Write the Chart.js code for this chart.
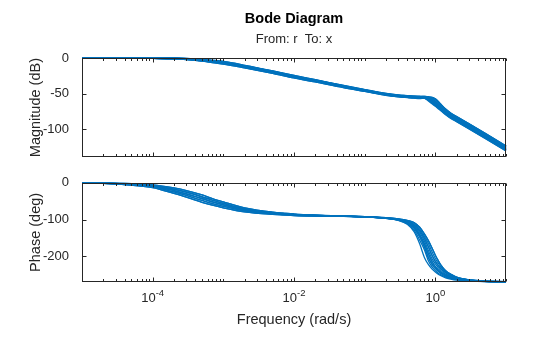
<!DOCTYPE html>
<html>
<head>
<meta charset="utf-8">
<script src="https://cdn.jsdelivr.net/npm/chart.js@4/dist/chart.umd.min.js"></script>
<style>
  body { margin: 0; background: #fff; }
  #wrap { position: relative; width: 560px; height: 337px; }
  canvas { position: absolute; left: 0; }
</style>
</head>
<body>
<div id="wrap">
  <canvas id="magChart" width="560" height="170" style="top:0"></canvas>
  <canvas id="phaseChart" width="560" height="167" style="top:170px"></canvas>
</div>
<script>
// frequency grid (rad/s)
const freq = [1e-5, 2e-5, 5e-5, 1e-4, 2e-4, 3e-4, 5e-4, 7e-4, 1e-3, 2e-3, 5e-3, 1e-2, 2e-2, 5e-2, 0.1,
  0.2, 0.3, 0.4, 0.5, 0.6, 0.7, 0.8, 0.9, 1, 1.1, 1.2, 1.4, 1.7, 2, 3, 5, 10];

// magnitude (dB) of each sampled model
const mag1 = [0, 0, -0.02, -0.1, -0.4, -0.8, -2.1, -3.4, -5.1, -10.4, -18.3, -24.7, -30.6, -38.7, -44.4,
  -49.9, -52, -53, -53.7, -54.1, -53.5, -55.2, -57.9, -61.4, -65.1, -68.7, -74.5, -80.6, -84.5, -94.5, -107.5, -125.5];
const mag2 = [0, 0, -0.03, -0.15, -0.55, -1.1, -2.65, -4.1, -5.85, -11.2, -19.05, -25.45, -31.3, -39.35, -44.95,
  -50.5, -52.5, -53.2, -53.7, -53.7, -56, -60, -64, -67.5, -70.8, -73.8, -79.2, -85.1, -89.1, -99.1, -112.1, -130];
const mag3 = [0, 0, -0.05, -0.2, -0.7, -1.4, -3.2, -4.8, -6.6, -12, -19.8, -26.2, -32, -40, -45.5,
  -51, -53.2, -54.3, -55.3, -56, -56, -55.4, -55.5, -57.3, -61, -65, -71.7, -78.3, -82.3, -92.4, -105.4, -123.5];
const mag4 = [0, 0, -0.07, -0.25, -0.9, -1.75, -3.75, -5.45, -7.4, -12.8, -20.55, -26.95, -32.7, -40.65, -46.05,
  -51.5, -53.6, -54.4, -55, -55.2, -55.5, -58.5, -62, -65.5, -69.1, -72.5, -78.2, -84.2, -88.2, -98.2, -111.2, -129.1];
const mag5 = [0, 0, -0.1, -0.3, -1.1, -2.1, -4.3, -6.1, -8.2, -13.6, -21.3, -27.7, -33.4, -41.3, -46.6,
  -52.1, -54.2, -55.3, -56.1, -56.6, -56.1, -56.9, -58.9, -62.1, -65.9, -69.7, -75.6, -81.7, -85.7, -95.7, -108.7, -126.7];
const mag6 = [0, 0, -0.02, -0.1, -0.4, -0.8, -2.1, -3.4, -5.1, -10.4, -18.3, -24.7, -30.6, -38.7, -44.4,
  -49.9, -52.1, -53.1, -54, -54.7, -54.4, -54.4, -55.5, -58.1, -61.9, -65.9, -72.1, -78.4, -82.4, -92.4, -105.4, -123.4];
const mag7 = [0, 0, -0.05, -0.2, -0.7, -1.4, -3.2, -4.8, -6.6, -12, -19.8, -26.2, -32, -40, -45.5,
  -51, -53, -53.8, -54.4, -54.5, -55.6, -59.2, -63, -66.5, -70, -73.2, -78.7, -84.7, -88.7, -98.7, -111.7, -129.6];
const mag8 = [0, 0, -0.1, -0.3, -1.1, -2.1, -4.3, -6.1, -8.2, -13.6, -21.3, -27.7, -33.4, -41.3, -46.6,
  -52.1, -54.2, -55.1, -55.8, -56.1, -55.7, -58.1, -61.3, -64.9, -68.6, -72.1, -77.8, -83.8, -87.8, -97.8, -110.8, -128.7];
const mag9 = [0, 0, -0.03, -0.15, -0.55, -1.1, -2.65, -4.1, -5.85, -11.2, -19.05, -25.45, -31.3, -39.35, -44.95,
  -50.5, -52.6, -53.7, -54.5, -55, -54.5, -55.3, -57.3, -60.5, -64.3, -68.1, -74, -80.1, -84.1, -94.1, -107.1, -125.1];
const mag10 = [0, 0, -0.07, -0.25, -0.9, -1.75, -3.75, -5.45, -7.4, -12.8, -20.55, -26.95, -32.7, -40.65, -46.05,
  -51.5, -53.7, -54.8, -55.8, -56.5, -56.5, -55.9, -56, -57.8, -61.5, -65.5, -72.2, -78.8, -82.8, -92.9, -105.9, -124];
const mag11 = [0, 0, -0.05, -0.2, -0.7, -1.4, -3.2, -4.8, -6.6, -12, -19.8, -26.2, -32, -40, -45.5,
  -51, -53.1, -54, -54.7, -55, -54.6, -57, -60.2, -63.8, -67.5, -71, -76.7, -82.7, -86.7, -96.7, -109.7, -127.6];
const mag12 = [0, 0, -0.03, -0.15, -0.55, -1.1, -2.65, -4.1, -5.85, -11.2, -19.05, -25.45, -31.3, -39.35, -44.95,
  -50.5, -52.6, -53.4, -54, -54.2, -54.5, -57.5, -61, -64.5, -68.1, -71.5, -77.2, -83.2, -87.2, -97.2, -110.2, -128.1];

// phase (deg) of each sampled model
const phase1 = [0, -0.5, -2.5, -5.5, -14, -21, -33, -43, -52, -68, -80, -85, -88, -90.5, -92,
  -96, -100, -106, -117, -135, -158, -185, -207, -221, -231, -239, -248.5, -255.5, -259.8, -265, -268, -269.5];
const phase2 = [0, -0.7, -3, -7, -17.5, -25.5, -38, -47.5, -56, -71, -81.5, -86, -88.5, -90.7, -92.2,
  -97, -102.5, -113, -133, -166, -203, -223, -235, -243, -249, -253, -258.5, -262.5, -264.5, -267, -269, -270];
const phase3 = [0, -1, -4.5, -9, -21, -30, -43, -52, -60, -74, -83, -87, -89, -91, -92.5,
  -95, -98, -102, -108, -121, -139, -158, -178, -197, -212, -224, -239, -250, -256.5, -264, -267.5, -269];
const phase4 = [0, -1.2, -5.5, -11, -25, -34.5, -48, -56.5, -64, -76.5, -84.5, -88, -89.7, -91.2, -92.7,
  -96.5, -101, -109, -123, -147, -174, -204, -222, -233, -241, -247, -254, -259.5, -262.5, -266, -268.5, -269.7];
const phase5 = [0, -1.5, -6.5, -13, -29, -39, -53, -61, -68, -79, -86, -89, -90.5, -91.5, -93,
  -95.7, -99.5, -105, -114, -130, -151, -175, -198, -214, -225, -234, -245, -253.5, -258.5, -264.6, -267.8, -269.4];
const phase6 = [0, -0.5, -2.5, -5.5, -14, -21, -33, -43, -52, -68, -80, -85, -88, -90.5, -92,
  -95.4, -99, -103.5, -111, -126, -145, -166, -188, -206, -219, -229, -242, -251.5, -257.5, -264.3, -267.6, -269.2];
const phase7 = [0, -1, -4.5, -9, -21, -30, -43, -52, -60, -74, -83, -87, -89, -91, -92.5,
  -96.8, -102, -111, -128, -156, -182, -213, -229, -239, -246, -250.5, -256.5, -261, -263.5, -266.5, -268.8, -269.8];
const phase8 = [0, -1.5, -6.5, -13, -29, -39, -53, -61, -68, -79, -86, -89, -90.5, -91.5, -93,
  -96.3, -100.5, -107.5, -120, -141, -166, -194, -215, -228, -237, -243.5, -251.5, -257.8, -261.3, -265.5, -268.3, -269.6];
const phase9 = [0, -0.7, -3, -7, -17.5, -25.5, -38, -47.5, -56, -71, -81.5, -86, -88.5, -90.7, -92.2,
  -95.7, -99.5, -105, -114, -130, -151, -175, -198, -214, -225, -234, -245, -253.5, -258.5, -264.6, -267.8, -269.4];
const phase10 = [0, -1.2, -5.5, -11, -25, -34.5, -48, -56.5, -64, -76.5, -84.5, -88, -89.7, -91.2, -92.7,
  -95, -98, -102, -108, -121, -139, -158, -178, -197, -212, -224, -239, -250, -256.5, -264, -267.5, -269];
const phase11 = [0, -1, -4.5, -9, -21, -30, -43, -52, -60, -74, -83, -87, -89, -91, -92.5,
  -96.3, -100.5, -107.5, -120, -141, -166, -194, -215, -228, -237, -243.5, -251.5, -257.8, -261.3, -265.5, -268.3, -269.6];
const phase12 = [0, -0.7, -3, -7, -17.5, -25.5, -38, -47.5, -56, -71, -81.5, -86, -88.5, -90.7, -92.2,
  -96.5, -101, -109, -123, -147, -174, -204, -222, -233, -241, -247, -254, -259.5, -262.5, -266, -268.5, -269.7];

// axis ticks
const magTicks = [-100, -50, 0];
const phaseTicks = [-200, -100, 0];
const freqMajor = [1e-4, 1e-2, 1];
const freqMajorExp = ['-4', '-2', '0'];

const lineColor = '#0072BD';
const axisColor = '#262626';
const fontFamily = "'Liberation Sans', Arial, Helvetica, sans-serif";
Chart.defaults.font.family = fontFamily;
Chart.defaults.color = axisColor;

// log tick marks 1..9 x 10^n
const freqTicks = [];
for (let e = -5; e <= 0; e++) {
  for (let m = 1; m <= 9; m++) freqTicks.push(m === 1 ? Number('1e' + e) : m * Number('1e' + e));
}
freqTicks.push(10);

function isMajor(v) {
  return freqMajor.some(m => Math.abs(v / m - 1) < 1e-9);
}

function lineSet(width) {
  return vals => ({
    data: freq.map((f, i) => ({ x: f, y: vals[i] })),
    borderColor: lineColor,
    borderWidth: width,
    pointRadius: 0,
    fill: false,
    cubicInterpolationMode: 'monotone',
    clip: 2
  });
}

// MATLAB style box with inward ticks
const boxPlugin = {
  id: 'matlabBox',
  afterDatasetsDraw(chart) {
    const { ctx, chartArea: a, scales: { x, y } } = chart;
    const L = Math.round(a.left) + 0.5, R = Math.round(a.right) - 0.5;
    const T = Math.round(a.top) + 0.5, B = Math.round(a.bottom) - 0.5;
    ctx.save();
    ctx.strokeStyle = axisColor;
    ctx.lineWidth = 1;
    ctx.beginPath();
    x.ticks.forEach(t => {
      const px = Math.round(x.getPixelForValue(t.value)) + 0.5;
      const len = isMajor(t.value) ? 4 : 2.5;
      ctx.moveTo(px, B); ctx.lineTo(px, B - len);
      ctx.moveTo(px, T); ctx.lineTo(px, T + len);
    });
    y.ticks.forEach(t => {
      const py = Math.round(y.getPixelForValue(t.value)) + 0.5;
      ctx.moveTo(L, py); ctx.lineTo(L + 4, py);
      ctx.moveTo(R, py); ctx.lineTo(R - 4, py);
    });
    ctx.stroke();
    ctx.strokeRect(L, T, R - L, B - T);
    ctx.restore();
  }
};

// 10^n labels with raised exponent
const expLabelPlugin = {
  id: 'expLabels',
  afterDraw(chart) {
    const { ctx, chartArea: a, scales: { x } } = chart;
    const baseFont = '13px ' + fontFamily;
    const expFont = '9.5px ' + fontFamily;
    ctx.save();
    ctx.fillStyle = axisColor;
    ctx.textBaseline = 'alphabetic';
    ctx.textAlign = 'left';
    freqMajor.forEach((v, i) => {
      const px = x.getPixelForValue(v);
      ctx.font = baseFont;
      const wBase = ctx.measureText('10').width;
      ctx.font = expFont;
      const wExp = ctx.measureText(freqMajorExp[i]).width;
      const left = px - (wBase + wExp) / 2;
      ctx.font = baseFont;
      ctx.fillText('10', left, a.bottom + 20);
      ctx.font = expFont;
      ctx.fillText(freqMajorExp[i], left + wBase, a.bottom + 13.5);
    });
    ctx.restore();
  }
};

function makeOptions(yMin, yMax, yTicks, yLabel, bottomAxis) {
  return {
    responsive: false,
    animation: false,
    events: [],
    layout: { padding: { left: 0, right: 54, top: bottomAxis ? 12 : 0, bottom: bottomAxis ? 0 : 12 } },
    plugins: {
      legend: { display: false },
      tooltip: { enabled: false },
      title: {
        display: !bottomAxis,
        text: 'Bode Diagram',
        fullSize: false,
        color: '#000',
        font: { size: 14.5, weight: 'bold' },
        padding: { top: 10, bottom: 2 }
      },
      subtitle: {
        display: !bottomAxis,
        text: 'From: r  To: x',
        fullSize: false,
        color: axisColor,
        font: { size: 13 },
        padding: { top: 2, bottom: 11 }
      }
    },
    scales: {
      x: {
        type: 'logarithmic',
        min: 1e-5,
        max: 10,
        grid: { display: false },
        border: { display: false },
        afterBuildTicks: s => { s.ticks = freqTicks.map(v => ({ value: v })); },
        afterFit: s => { s.height = bottomAxis ? 55 : 0; },
        ticks: { display: false },
        title: {
          display: bottomAxis,
          text: 'Frequency (rad/s)',
          font: { size: 14.5 },
          padding: { top: 0, bottom: 8 }
        }
      },
      y: {
        min: yMin,
        max: yMax,
        grid: { display: false },
        border: { display: false },
        afterBuildTicks: s => { s.ticks = yTicks.map(v => ({ value: v })); },
        afterFit: s => { s.width = 82; },
        ticks: { font: { size: 13 }, padding: 5, callback: v => String(v) },
        title: {
          display: true,
          text: yLabel,
          font: { size: 14.5 },
          padding: { top: 27, bottom: 0 }
        }
      }
    }
  };
}

new Chart(document.getElementById('magChart'), {
  type: 'line',
  data: { datasets: [mag1, mag2, mag3, mag4, mag5, mag6, mag7, mag8, mag9, mag10, mag11, mag12].map(lineSet(1.6)) },
  options: makeOptions(-139, 0, magTicks, 'Magnitude (dB)', false),
  plugins: [boxPlugin]
});

new Chart(document.getElementById('phaseChart'), {
  type: 'line',
  data: { datasets: [phase1, phase2, phase3, phase4, phase5, phase6, phase7, phase8, phase9, phase10, phase11, phase12].map(lineSet(1.3)) },
  options: makeOptions(-270, 0, phaseTicks, 'Phase (deg)', true),
  plugins: [boxPlugin, expLabelPlugin]
});
</script>
</body>
</html>
